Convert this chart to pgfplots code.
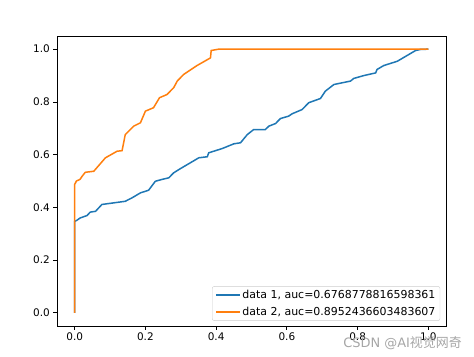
\documentclass[border=0pt]{standalone}
\usepackage{pgfplots}
\pgfplotsset{compat=1.18}
\usepackage{fontspec}
\setmainfont{DejaVu Sans}
\newfontfamily\cjk{Noto Sans CJK SC}
\definecolor{c0}{HTML}{1F77B4}
\definecolor{c1}{HTML}{FF7F0E}
\begin{document}
\begin{tikzpicture}[x=1bp,y=1bp]
\path[use as bounding box] (-57bp,-31bp) rectangle (417bp,326bp);
\begin{axis}[
  at={(0,0)}, anchor=south west,
  scale only axis, width=389bp, height=290bp,
  xmin=-0.05, xmax=1.05, ymin=-0.05, ymax=1.05,
  xtick={0,0.2,0.4,0.6,0.8,1.0}, ytick={0,0.2,0.4,0.6,0.8,1.0},
  xticklabel style={/pgf/number format/.cd,fixed,fixed zerofill,precision=1},
  yticklabel style={/pgf/number format/.cd,fixed,fixed zerofill,precision=1},
  /pgf/number format/assume math mode=true,
  tick label style={font=\fontsize{10.5}{12}\selectfont},
  tick align=outside, tick pos=left,
  major tick length=3.6bp,
  every tick/.style={black, line width=0.8bp},
  axis line style={line width=0.8bp},
  legend style={at={(0.985,0.018)}, anchor=south east, draw=black!20, rounded corners=2bp, fill=white, fill opacity=0.8, text opacity=1, draw opacity=1, font=\fontsize{11}{13}\selectfont, row sep=3.5bp, inner xsep=3bp, inner ysep=2.5bp, nodes={inner sep=1.5bp}},
  legend cell align=left,
  legend image code/.code={\draw[#1, line width=1.7bp, draw opacity=1] (0bp,0bp) -- (24bp,0bp);},
]
\addplot[c0, line width=1.5bp] coordinates {
(0,0)(0,0.347)(0.005,0.35)(0.016,0.36)(0.035,0.369)(0.044,0.382)(0.059,0.385)(0.077,0.411)(0.11,0.417)(0.143,0.423)(0.162,0.436)(0.186,0.455)(0.209,0.465)(0.228,0.499)(0.247,0.506)(0.266,0.512)(0.28,0.531)(0.299,0.547)(0.327,0.569)(0.351,0.588)(0.375,0.592)(0.379,0.607)(0.417,0.623)(0.45,0.641)(0.469,0.645)(0.488,0.676)(0.506,0.695)(0.539,0.695)(0.549,0.708)(0.568,0.718)(0.582,0.737)(0.605,0.746)(0.615,0.755)(0.643,0.771)(0.662,0.797)(0.695,0.813)(0.709,0.841)(0.733,0.866)(0.78,0.879)(0.789,0.889)(0.818,0.9)(0.851,0.91)(0.855,0.923)(0.874,0.938)(0.912,0.954)(0.94,0.976)(0.964,0.995)(0.978,0.999)(1,1)
};
\addlegendentry{data 1, auc=0.6768778816598361}
\addplot[c1, line width=1.5bp] coordinates {
(0,0)(0,0.487)(0.005,0.5)(0.015,0.506)(0.021,0.518)(0.03,0.533)(0.054,0.537)(0.087,0.588)(0.12,0.613)(0.134,0.615)(0.143,0.676)(0.167,0.708)(0.186,0.721)(0.2,0.765)(0.223,0.778)(0.24,0.816)(0.261,0.828)(0.28,0.854)(0.29,0.879)(0.308,0.904)(0.346,0.938)(0.384,0.967)(0.386,0.995)(0.407,1.0)(1,1)
};
\addlegendentry{data 2, auc=0.8952436603483607}
\end{axis}
\node[anchor=east, text=black!35, font=\fontsize{13}{13}\selectfont, inner sep=0pt] at (405bp,-17bp) {CSDN @AI{\cjk 视觉网奇}};
\end{tikzpicture}
\end{document}
